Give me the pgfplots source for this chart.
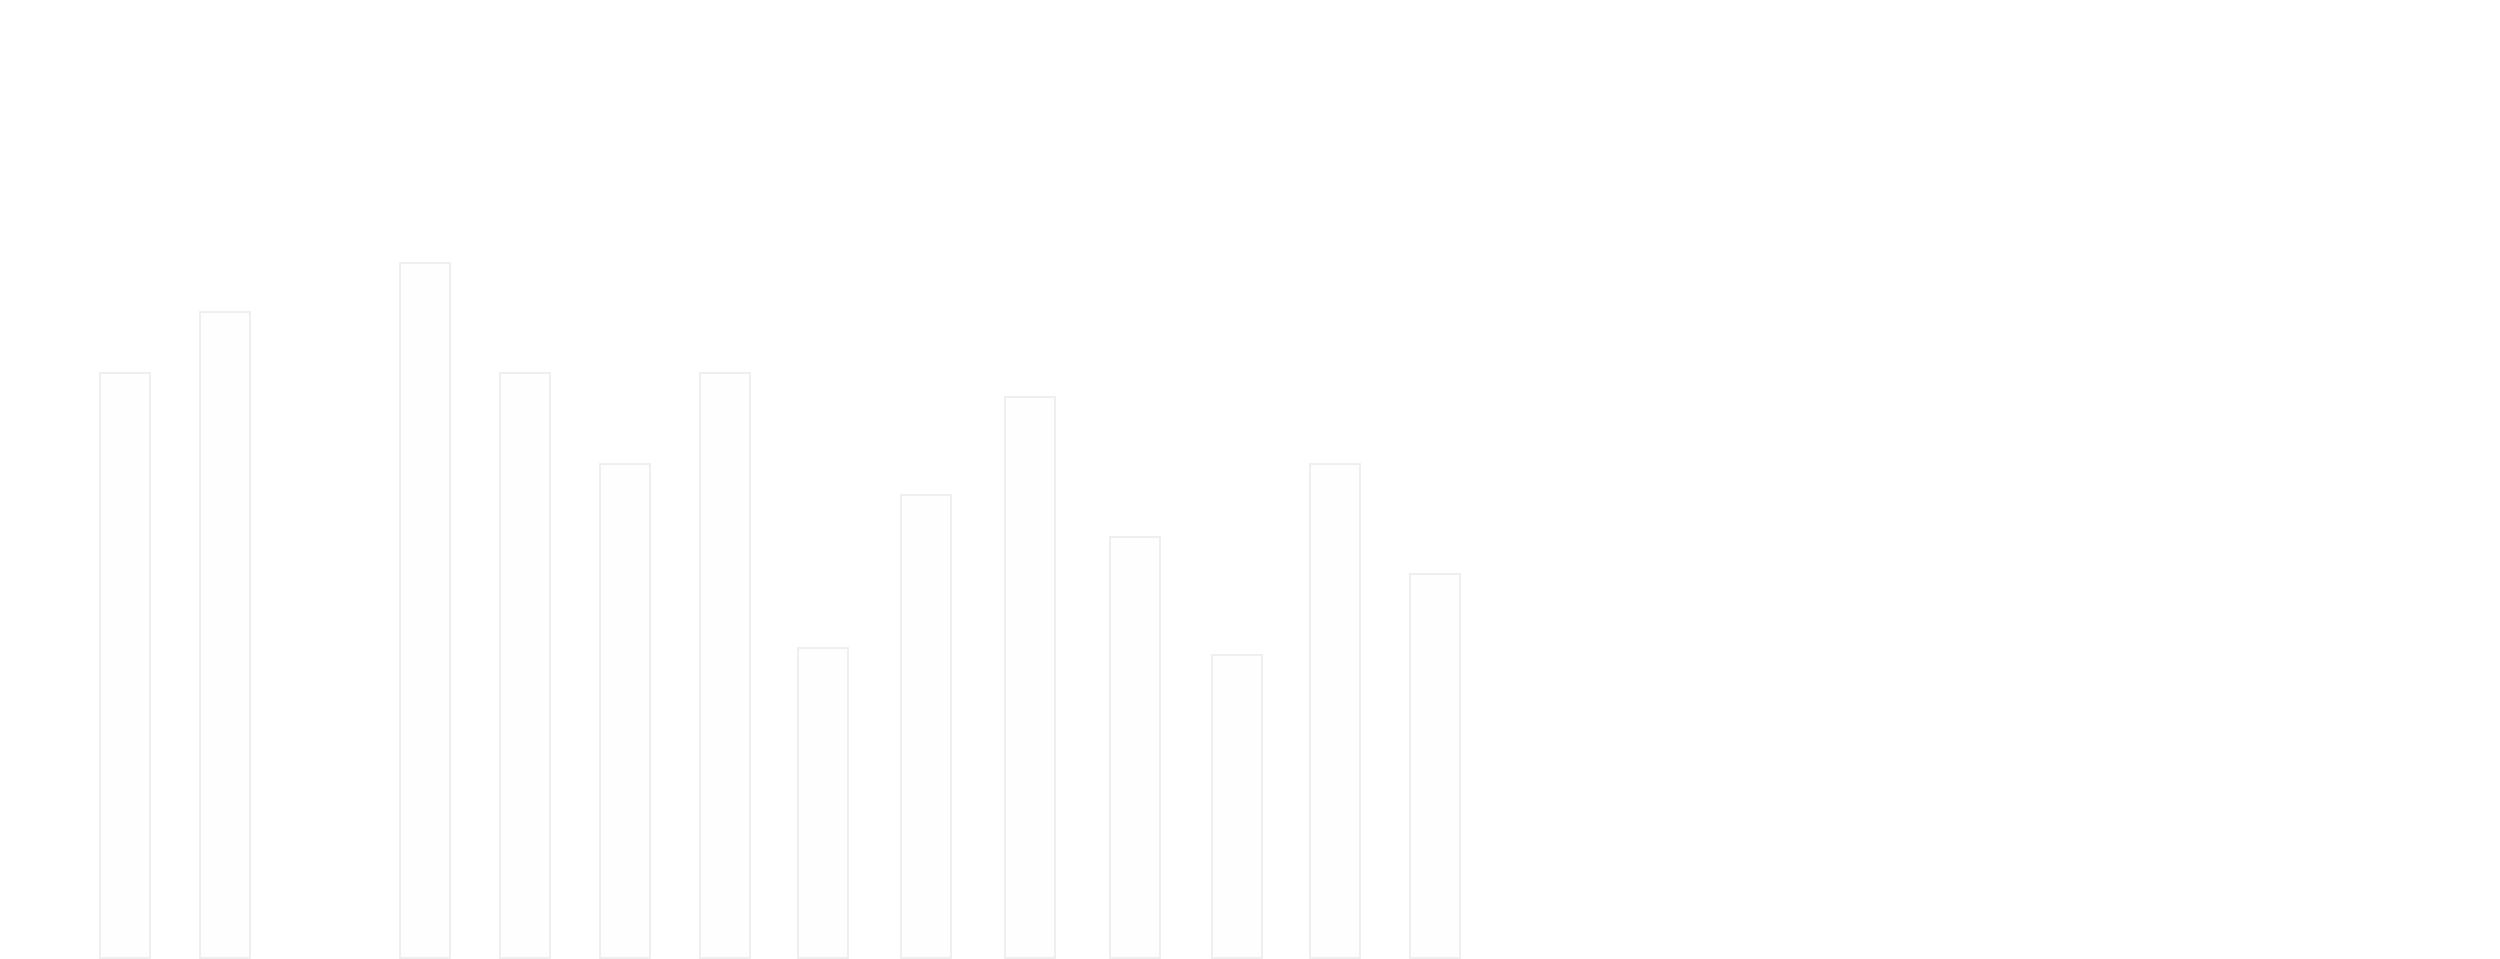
\documentclass[border=0pt]{standalone}
\usepackage{pgfplots}
\pgfplotsset{compat=1.18}
\definecolor{barfill}{HTML}{FEFEFE}
\definecolor{baredge}{HTML}{EFEFEF}

% bar heights, measured upwards from 50 units below the picture's lower edge
\pgfplotstableread{
x    h
125  635
225  696
425  745
525  635
625  544
725  635
823  360
926  513
1030 611
1135 471
1237 353
1335 544
1435 434
}\bars

\begin{document}
\begin{tikzpicture}
\begin{axis}[
    scale only axis,
    width=25cm,
    height=9.58cm,
    xmin=0, xmax=2500,
    ymin=50, ymax=1008,
    axis line style={draw=none},
    ticks=none,
    ybar,
    bar width=50,
    clip=true,
]
\addplot[draw=baredge, fill=barfill, line width=0.4pt] table[x=x, y=h] {\bars};
\end{axis}
\end{tikzpicture}
\end{document}
